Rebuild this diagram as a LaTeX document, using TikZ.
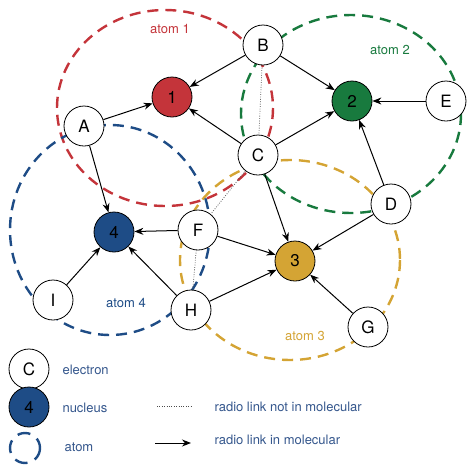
\documentclass[tikz,border=0pt]{standalone}
\usepackage{fontspec}
\setmainfont{TeX Gyre Heros}
\usetikzlibrary{arrows.meta,positioning}
\definecolor{atomred}{RGB}{196,52,58}
\definecolor{atomgreen}{RGB}{24,122,62}
\definecolor{atomblue}{RGB}{30,76,134}
\definecolor{atomgold}{RGB}{212,164,52}
\definecolor{legendtext}{RGB}{52,86,140}
\def\rad{20}
\tikzstyle{electron} = [circle, draw=black, line width=0.8pt, fill=white, minimum size=2*\rad pt, inner sep=0pt, font=\fontsize{17}{17}\selectfont]
\tikzstyle{nucleus}  = [electron]
\tikzstyle{atom}     = [line width=2.4pt, dash pattern=on 11pt off 7pt]
\tikzstyle{arrow}    = [line width=1pt,-{Stealth[length=9pt,width=7pt]}]
\tikzstyle{radio}    = [line width=0.7pt, dash pattern=on 0.8pt off 1.6pt, black!70]
\tikzstyle{label}    = [font=\fontsize{13}{13}\selectfont]

\begin{document}
\begin{tikzpicture}[x=1pt,y=-1pt]
		\useasboundingbox (0,0) rectangle (474,475);
		% atoms
		\draw[atom, atomred]   (165,108) ellipse [x radius=108, y radius=98];
		\draw[atom, atomgreen] (351,114) ellipse [x radius=110, y radius=99];
		\draw[atom, atomgold]  (290,260) ellipse [x radius=110, y radius=100];
		\draw[atom, atomblue]  (110,230) ellipse [x radius=100, y radius=105];
		\node[label, text=atomred]   (lab1) at (170,29)  {atom 1};
		\node[label, text=atomgreen] (lab2) at (390,50)  {atom 2};
		\node[label, text=atomgold]  (lab3) at (305,336) {atom 3};
		\node[label, text=atomblue]  (lab4) at (126,303) {atom 4};
		% nuclei
		\node[nucleus, fill=atomred]   (n1) at (172,97)  {1};
		\node[nucleus, fill=atomgreen] (n2) at (352,101) {2};
		\node[nucleus, fill=atomgold]  (n3) at (295,261) {3};
		\node[nucleus, fill=atomblue]  (n4) at (114,232) {4};
		% electrons
		\node[electron] (B) at (263,45)  {B};
		\node[electron] (E) at (446,101) {E};
		\node[electron] (A) at (84,126)  {A};
		\node[electron] (C) at (258,155) {C};
		\node[electron] (D) at (391,204) {D};
		\node[electron] (F) at (198,230) {F};
		\node[electron] (I) at (53,300)  {I};
		\node[electron] (H) at (191,310) {H};
		\node[electron] (G) at (368,327) {G};
		% links
		\draw[radio] (B) -- (C);
		\draw[radio] (C) -- (F);
		\draw[radio] (F) -- (H);
		\foreach \from/\to in {A/n1,A/n4,B/n1,B/n2,C/n1,C/n2,C/n3,D/n2,D/n3,E/n2,F/n4,F/n3,H/n4,H/n3,I/n4,G/n3}
			\draw[arrow] (\from) -- (\to);
		% legend
		\node[electron] (keyC) at (29,369) {C};
		\node[nucleus, fill=atomblue] (key4) at (29,407) {4};
		\draw[atom, atomblue, dash pattern=on 13pt off 8pt] (25,448) circle (15);
		\node[label, text=legendtext, anchor=west] (keyelec) at (59,370) {electron};
		\node[label, text=legendtext, anchor=west] (keynuc)  at (59,408) {nucleus};
		\node[label, text=legendtext, anchor=west] (keyatom) at (61,447) {atom};
		\coordinate (dotL) at (157,406);
		\coordinate (dotR) at (192,406);
		\coordinate (arrL) at (155,443);
		\coordinate (arrR) at (191,443);
		\draw[radio] (dotL) -- (dotR);
		\draw[arrow] (arrL) -- (arrR);
		\node[label, text=legendtext, anchor=west] (keynot) at (211,407) {radio link not in molecular};
		\node[label, text=legendtext, anchor=west] (keyin)  at (211,440) {radio link in molecular};
	\end{tikzpicture}
\end{document}
